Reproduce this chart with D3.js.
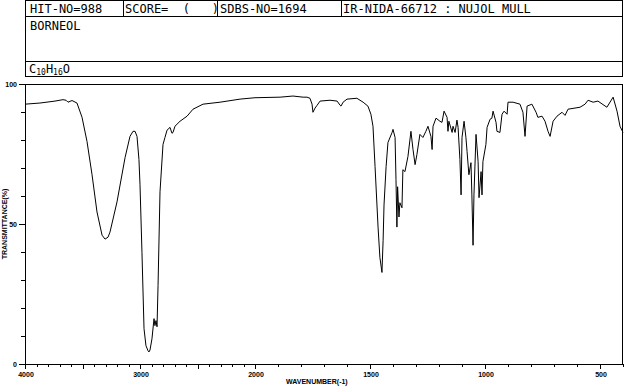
<!DOCTYPE html>
<html>
<head>
<meta charset="utf-8">
<script src="https://cdn.jsdelivr.net/npm/d3@7"></script>
<style>
  body { margin: 0; background: #fff; }
  svg { display: block; }
  .hdr { font-family: "DejaVu Sans Mono", monospace; font-size: 12px; fill: #000; }
  .lab { font-family: "Liberation Sans", Arial, sans-serif; font-size: 7px; font-weight: bold; fill: #000; }
</style>
</head>
<body>
<div id="chart"></div>
<script>
// spectre (cm-1, %T)
const wavenumber = [
  4000, 3870, 3739, 3670, 3643, 3626, 3591, 3548, 3504, 3461, 3417, 3374, 3330, 3304, 3278, 3261,
  3200, 3130, 3087, 3061, 3043, 3026, 3009, 3000, 2983, 2965, 2948, 2930, 2922, 2913, 2896, 2878,
  2870, 2861, 2852, 2843, 2826, 2800, 2783, 2765, 2739, 2722, 2713, 2696, 2652, 2591, 2539, 2452,
  2304, 2130, 2000, 1891, 1835, 1791, 1774, 1761, 1752, 1748, 1739, 1730, 1717, 1674, 1643, 1630,
  1626, 1617, 1600, 1557, 1530, 1509, 1496, 1487, 1478, 1465, 1457, 1448, 1443, 1439, 1430, 1422,
  1404, 1400, 1391, 1387, 1383, 1380, 1374, 1370, 1361, 1357, 1348, 1335, 1322, 1313, 1304, 1296,
  1283, 1270, 1257, 1248, 1235, 1230, 1226, 1213, 1196, 1187, 1178, 1165, 1161, 1157, 1143, 1139,
  1130, 1122, 1117, 1109, 1104, 1100, 1091, 1083, 1078, 1070, 1061, 1057, 1052, 1048, 1039, 1030,
  1026, 1017, 1013, 1009, 996, 991, 978, 970, 965, 952, 948, 935, 926, 917, 904, 900,
  878, 848, 835, 826, 817, 796, 778, 770, 752, 739, 726, 717, 704, 687, 665, 652,
  639, 587, 565, 552, 530, 509, 470, 443, 426, 413, 400
];
const transmittance = [
  92.8, 93.2, 93.9, 94.4, 94.2, 93.5, 94.1, 93.2, 88.1, 79.5, 67.6, 54.3, 46.0, 44.6, 45.3, 47.1,
  57.9, 73.7, 81.3, 83.1, 83.1, 81.3, 73.0, 64.0, 39.9, 12.6, 6.5, 4.7, 4.3, 5.0, 9.0, 16.2,
  13.7, 15.5, 13.3, 28.1, 61.5, 78.4, 80.9, 83.5, 84.5, 82.4, 82.7, 84.9, 86.7, 88.5, 91.0, 92.8,
  93.5, 94.6, 95.1, 95.3, 95.7, 95.3, 95.3, 94.9, 92.8, 89.9, 91.4, 92.4, 93.9, 94.2, 93.9, 92.4,
  92.1, 93.5, 94.6, 94.9, 93.5, 92.1, 89.2, 84.9, 70.5, 48.9, 38.1, 32.7, 44.2, 56.8, 70.5, 79.1,
  82.7, 83.8, 80.9, 65.8, 48.9, 63.3, 52.5, 57.6, 55.8, 69.4, 68.7, 74.1, 83.1, 76.6, 71.2, 74.8,
  82.0, 80.9, 83.1, 84.9, 81.3, 76.6, 84.9, 87.8, 86.7, 86.3, 90.3, 88.1, 83.1, 86.7, 82.7, 84.9,
  82.7, 87.1, 84.5, 73.0, 60.4, 80.9, 86.7, 80.9, 75.9, 67.6, 71.9, 60.4, 42.4, 60.4, 82.0, 72.3,
  59.4, 68.7, 60.4, 72.3, 78.4, 84.5, 87.4, 87.8, 90.3, 86.3, 83.1, 82.7, 89.2, 90.3, 89.2, 93.5,
  93.5, 92.8, 89.9, 81.3, 92.1, 92.8, 89.9, 88.1, 88.5, 86.7, 83.1, 81.3, 86.7, 88.5, 89.9, 88.8,
  91.0, 91.7, 92.8, 94.2, 93.5, 93.9, 91.7, 95.3, 90.3, 84.9, 82.7
];

const xLabels = [4000, 3000, 2000, 1500, 1000, 500];
const yLabels = [0, 50, 100];

const hitText = "HIT-NO=988";
const scoreText = "SCORE=  (   )";
const sdbsText = "SDBS-NO=1694";
const irText = "IR-NIDA-66712 : NUJOL MULL";
const nameText = "BORNEOL";

const width = 624;
const height = 388;
const margin = { top: 84, right: 1, bottom: 24, left: 25 };

const svg = d3.select("#chart").append("svg")
    .attr("width", width)
    .attr("height", height);

// en-tête
const hdr = svg.append("g")
    .attr("fill", "none")
    .attr("stroke", "#000")
    .attr("stroke-width", 1);
hdr.append("rect").attr("x", 25.5).attr("y", 0.5).attr("width", 597).attr("height", 76);
hdr.append("line").attr("x1", 25.5).attr("x2", 622.5).attr("y1", 16.5).attr("y2", 16.5);
hdr.append("line").attr("x1", 25.5).attr("x2", 622.5).attr("y1", 61.5).attr("y2", 61.5);
[123.5, 217.5, 341.5].forEach(x => {
    hdr.append("line").attr("x1", x).attr("x2", x).attr("y1", 0.5).attr("y2", 16.5);
});

svg.append("text").attr("class", "hdr").attr("x", 30).attr("y", 13).text(hitText);
svg.append("text").attr("class", "hdr").attr("x", 125).attr("y", 13).style("white-space", "pre").text(scoreText);
svg.append("text").attr("class", "hdr").attr("x", 220).attr("y", 13).text(sdbsText);
svg.append("text").attr("class", "hdr").attr("x", 343).attr("y", 13).text(irText);
svg.append("text").attr("class", "hdr").attr("x", 30).attr("y", 30).text(nameText);

const formula = svg.append("text").attr("class", "hdr").attr("x", 29).attr("y", 73);
formula.append("tspan").text("C");
formula.append("tspan").attr("font-size", "8px").attr("dy", 2).text("10");
formula.append("tspan").attr("dy", -2).text("H");
formula.append("tspan").attr("font-size", "8px").attr("dy", 2).text("16");
formula.append("tspan").attr("dy", -2).text("O");

// échelles (échelle double sous 2000 cm-1)
const x = d3.scaleLinear()
    .domain([4000, 2000, 400])
    .range([margin.left, 255, width - margin.right]);

const y = d3.scaleLinear()
    .domain([0, 100])
    .range([height - margin.bottom, margin.top]);

// cadre du graphique
svg.append("rect")
    .attr("x", x(4000) + 0.5)
    .attr("y", y(100) + 0.5)
    .attr("width", x(400) - x(4000) - 1)
    .attr("height", y(0) - y(100))
    .attr("fill", "none")
    .attr("stroke", "#000");

// graduations X
const xMinor = d3.range(4000, 399, -100);
svg.append("g")
    .selectAll("line")
    .data(xMinor)
    .join("line")
    .attr("x1", d => Math.round(x(d)) + 0.5)
    .attr("x2", d => Math.round(x(d)) + 0.5)
    .attr("y1", y(0))
    .attr("y2", d => y(0) + (d % 500 === 0 ? 5 : 3))
    .attr("stroke", "#000");

svg.append("g")
    .selectAll("text")
    .data(xLabels)
    .join("text")
    .attr("class", "lab")
    .attr("x", d => x(d) + 1)
    .attr("y", y(0) + 13)
    .attr("text-anchor", "middle")
    .text(d => d);

svg.append("text")
    .attr("class", "lab")
    .attr("x", 286)
    .attr("y", 384)
    .text("WAVENUMBER(-1)");

// graduations Y
const yMinor = d3.range(0, 101, 10);
svg.append("g")
    .selectAll("line")
    .data(yMinor)
    .join("line")
    .attr("x1", d => x(4000) - (d % 50 === 0 ? 6 : 4))
    .attr("x2", x(4000))
    .attr("y1", d => Math.round(y(d)) + 0.5)
    .attr("y2", d => Math.round(y(d)) + 0.5)
    .attr("stroke", "#000");

svg.append("g")
    .selectAll("text")
    .data(yLabels)
    .join("text")
    .attr("class", "lab")
    .attr("x", 17)
    .attr("y", d => y(d) + 2.5)
    .attr("text-anchor", "end")
    .text(d => d);

svg.append("text")
    .attr("class", "lab")
    .attr("transform", `translate(7,${y(50)}) rotate(-90)`)
    .attr("text-anchor", "middle")
    .text("TRANSMITTANCE(%)");

// spectre
const points = wavenumber.map((w, i) => [w, transmittance[i]]);
const line = d3.line()
    .x(d => x(d[0]))
    .y(d => y(d[1]));

svg.append("path")
    .datum(points)
    .attr("d", line)
    .attr("fill", "none")
    .attr("stroke", "#000")
    .attr("stroke-width", 1);
</script>
</body>
</html>
